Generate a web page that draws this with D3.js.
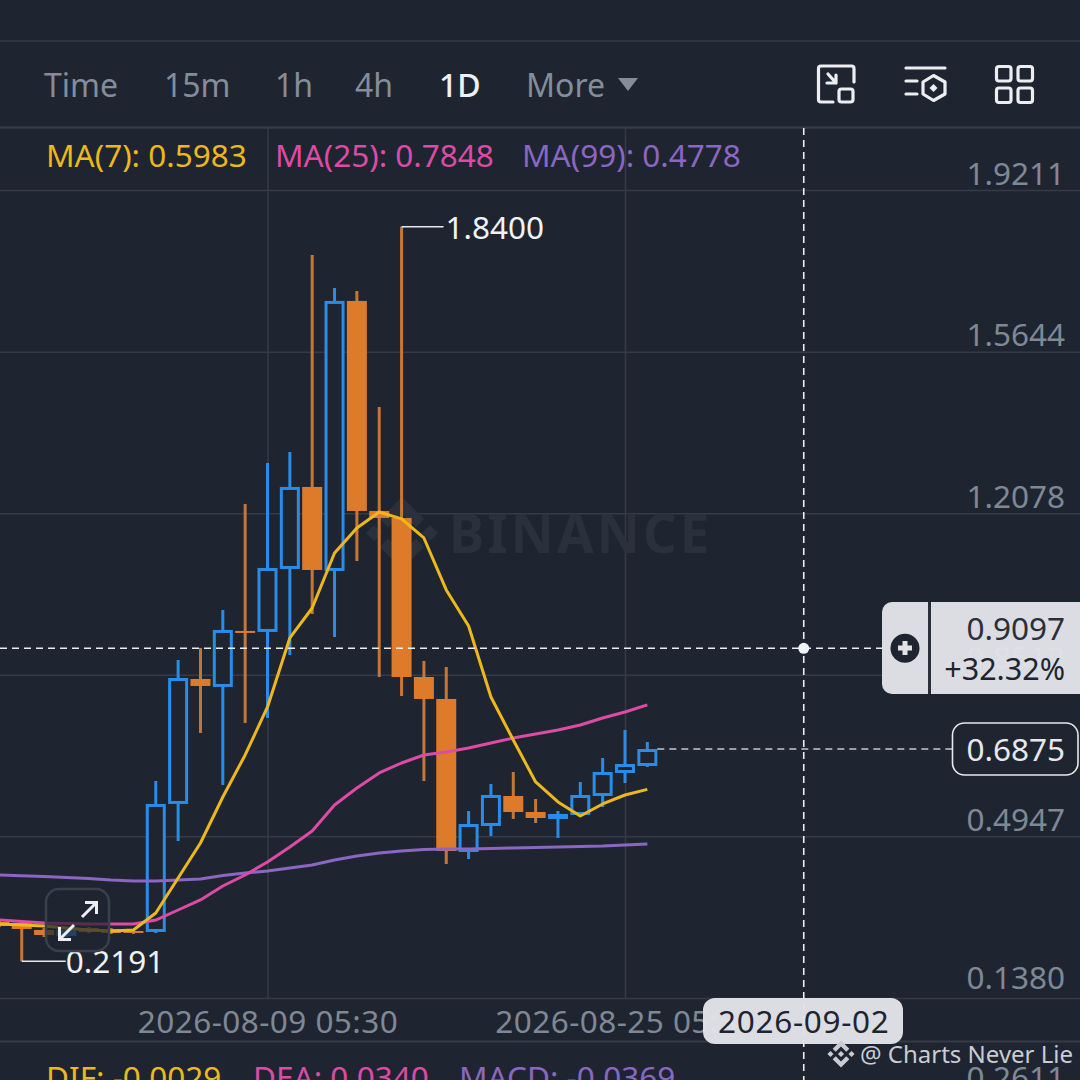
<!DOCTYPE html>
<html>
<head>
<meta charset="utf-8">
<script src="https://cdnjs.cloudflare.com/ajax/libs/d3/7.8.5/d3.min.js"></script>
<style>
  html, body { margin: 0; padding: 0; background: #1f2530; overflow: hidden; }
  svg { display: block; }
  text { font-family: "Noto Sans", sans-serif; }
  .domain { display: none; }
</style>
</head>
<body>
<svg id="canvas"></svg>
<script>
// one entry per daily candle
let dates = ['2026-07-28','2026-07-29','2026-07-30','2026-07-31','2026-08-01','2026-08-02','2026-08-03','2026-08-04',
             '2026-08-05','2026-08-06','2026-08-07','2026-08-08','2026-08-09','2026-08-10','2026-08-11','2026-08-12',
             '2026-08-13','2026-08-14','2026-08-15','2026-08-16','2026-08-17','2026-08-18','2026-08-19','2026-08-20',
             '2026-08-21','2026-08-22','2026-08-23','2026-08-24','2026-08-25','2026-08-26'];
let opens  = [.3057,.3035,.2881,.2749,.2925,.2903,.2859,.2837,.5662,.8420,.8244,.9480,.9458,1.0848,1.2658,1.0804,
              1.6763,1.2128,1.1974,.8464,.7979,.4602,.5176,.5838,.5485,.5331,.5419,.5838,.6346,.6500];
let highs  = [.3101,.3079,.2925,.2925,.2947,.2925,.2881,.6169,.8840,.9105,.9943,1.2283,1.3187,1.3430,1.7778,1.7050,
              1.6983,1.4423,1.8400,.8818,.8685,.5507,.6103,.6368,.5772,.5507,.6147,.6677,.7295,.7030];
let lows   = [.2947,.2191,.2726,.2726,.2815,.2793,.2793,.2815,.4845,.7229,.6081,.7449,.7560,.8950,.9855,.9347,
              1.1025,.8464,.8045,.6169,.4337,.4448,.4955,.5331,.5242,.4911,.5397,.5595,.6125,.6478];
let closes = [.2969,.2903,.2771,.2881,.2837,.2815,.2815,.5662,.8442,.8266,.9502,.9436,1.0870,1.2658,1.0826,1.6763,
              1.2128,1.1974,.8464,.7979,.4624,.5220,.5860,.5485,.5353,.5441,.5860,.6368,.6544,.6875];

let ma7  = [.3013,.2991,.2969,.2925,.2881,.2859,.2881,.3256,.4028,.4801,.5816,.6743,.7802,.9325,.9987,1.1201,
            1.1753,1.2106,1.1952,1.1532,1.0385,.9590,.8023,.7074,.6147,.5706,.5397,.5662,.5860,.5983];
let ma25 = [.3101,.3068,.3035,.3024,.3013,.3013,.3013,.3101,.3322,.3543,.3852,.4095,.4382,.4713,.5066,.5640,
            .6015,.6346,.6566,.6743,.6809,.6898,.7008,.7118,.7206,.7295,.7405,.7560,.7692,.7848];
let ma99 = [.4095,.4078,.4061,.4039,.4017,.3984,.3962,.3962,.3984,.4006,.4084,.4139,.4183,.4249,.4315,.4426,
            .4514,.4580,.4624,.4657,.4668,.4668,.4679,.4691,.4702,.4713,.4724,.4735,.4757,.4778];

let priceTicks = [1.9211, 1.5644, 1.2078, 0.8512, 0.4947, 0.1380];
let dateTicks = ['2026-08-09', '2026-08-25'];
let tabs = ['Time', '15m', '1h', '4h', '1D', 'More'];
let tabX = [44, 164, 275, 355, 439, 526];

let width = 1080;
let height = 1080;
let bg = '#1f2530';
let gridColor = '#343a46';
let tickColor = '#7f8895';
let up = '#2a8ce6';
let down = '#de7b2b';
let downWick = '#c4773a';
let yellow = '#ecb81e';
let pink = '#dc4ba6';
let purple = '#8b66c2';
let light = '#e1e3e8';
let labelSize = 31.5;

let parseDay = d3.utcParse('%Y-%m-%d');
let candles = dates.map((d, i) => ({
    date: parseDay(d), open: opens[i], high: highs[i], low: lows[i], close: closes[i]
}));

let canvas = d3.select('#canvas').attr('width', width).attr('height', height);

let xScale = d3.scaleUtc()
               .domain([parseDay(dateTicks[0]), parseDay(dateTicks[1])])
               .range([267.5, 625]);
let yScale = d3.scaleLinear()
               .domain([priceTicks[5], priceTicks[0]])
               .range([998, 190]);

let addText = (g, x, y, str, size, fill, anchor) =>
    g.append('text').attr('x', x).attr('y', y).attr('font-size', size)
     .attr('fill', fill).attr('text-anchor', anchor || 'start').text(str);

let drawLogo = (g, cx, cy, scale, fill) => {
    g.append('path')
     .attr('transform', `translate(${cx - 16 * scale},${cy - 16 * scale}) scale(${scale})`)
     .attr('fill', fill)
     .attr('d', 'M9.8 13.4L16 7.2l6.2 6.2 3.6-3.6L16 0 6.2 9.8zM0 16l3.6-3.6L7.2 16l-3.6 3.6zM9.8 18.6L16 24.8l6.2-6.2 3.6 3.6L16 32 6.2 22.2zM24.8 16l3.6-3.6L32 16l-3.6 3.6zM19.6 16L16 12.4 12.4 16l3.6 3.6z');
};

// frame lines
canvas.append('rect').attr('width', width).attr('height', height).attr('fill', bg);
[[41, 1.5], [127.5, 2.5], [1041.5, 2]].forEach(([y, w]) => {
    canvas.append('line').attr('x1', 0).attr('x2', width).attr('y1', y).attr('y2', y)
          .attr('stroke', gridColor).attr('stroke-width', w);
});

// header tabs
let header = canvas.append('g');
tabs.forEach((t, i) => {
    let active = t === '1D';
    addText(header, tabX[i], 97, t, 32, active ? '#eef0f3' : '#848d9a')
        .attr('font-weight', active ? 500 : 400);
});
header.append('path').attr('d', 'M618 78H638L628 91Z').attr('fill', '#848d9a');

// header icons
let icons = canvas.append('g').attr('fill', 'none').attr('stroke', '#eceef1')
                  .attr('stroke-width', 3.2).attr('stroke-linecap', 'round').attr('stroke-linejoin', 'round');
icons.append('path').attr('d', 'M833 102H821Q818.5 102 818.5 99.5V68.5Q818.5 66 821 66H851.5Q854 66 854 68.5V82');
icons.append('path').attr('d', 'M828 74L836 83M836 75V83H827');
icons.append('rect').attr('x', 839).attr('y', 89).attr('width', 14).attr('height', 13).attr('rx', 2.5);
icons.append('path').attr('d', 'M906 68H945M906 81H917M906 94H917');
icons.append('path').attr('d', 'M933.5 75.5L945 82V94L933.5 100.5L923 94V82Z');
icons.append('path').attr('d', 'M933.5 84L937.5 88L933.5 92L929.5 88Z').attr('fill', '#eceef1').attr('stroke', 'none');
[[996.5, 66.5], [1018, 66.5], [996.5, 88], [1018, 88]].forEach(([x, y]) => {
    icons.append('rect').attr('x', x).attr('y', y).attr('width', 14.5).attr('height', 14.5).attr('rx', 2.5);
});

// indicator legend
let legend = canvas.append('g');
addText(legend, 46, 167, 'MA(7): 0.5983', labelSize, yellow);
addText(legend, 275, 167, 'MA(25): 0.7848', labelSize, pink);
addText(legend, 522, 167, 'MA(99): 0.4778', labelSize, purple);

// grid and tick labels through the axes
let yAxis = d3.axisRight(yScale).tickValues(priceTicks).tickSize(width).tickFormat(d3.format('.4f'));
let yGroup = canvas.append('g').call(yAxis);
yGroup.selectAll('line').attr('stroke', gridColor).attr('stroke-width', 1.5);
yGroup.selectAll('text').attr('x', 1065).attr('dy', 0).attr('text-anchor', 'end')
      .attr('y', (d) => d === 0.138 ? -10 : -6)
      .attr('font-size', labelSize).attr('fill', tickColor);

let xAxis = d3.axisBottom(xScale).tickValues(dateTicks.map(parseDay)).tickSize(870)
              .tickFormat(d3.utcFormat('%Y-%m-%d 05:30'));
let xGroup = canvas.append('g').attr('transform', 'translate(0,128)').call(xAxis);
xGroup.selectAll('line').attr('stroke', gridColor).attr('stroke-width', 1.5);
xGroup.selectAll('text').attr('y', 905).attr('dy', 0)
      .attr('font-size', labelSize).attr('letter-spacing', 0.45).attr('fill', tickColor);

// watermark
let mark = canvas.append('g');
drawLogo(mark, 402, 533, 2.25, '#2a303c');
addText(mark, 449, 553, 'BINANCE', 53, '#2a303c').attr('font-weight', 700).attr('letter-spacing', 3);

// candles
let bodyWidth = 20;
let stroke = 3;
let candle = canvas.append('g').selectAll('g').data(candles).enter().append('g');

candle.append('line')
      .attr('x1', (d) => xScale(d.date))
      .attr('x2', (d) => xScale(d.date))
      .attr('y1', (d) => yScale(d.high))
      .attr('y2', (d) => yScale(d.low))
      .attr('stroke', (d) => d.close >= d.open ? up : downWick)
      .attr('stroke-width', 3);

candle.filter((d) => d.close < d.open).append('rect')
      .attr('x', (d) => xScale(d.date) - bodyWidth / 2)
      .attr('width', bodyWidth)
      .attr('y', (d) => yScale(d.open))
      .attr('height', (d) => yScale(d.close) - yScale(d.open))
      .attr('fill', down);

// hollow up candles, background inside so the wick stops at the body
candle.filter((d) => d.close >= d.open).append('rect')
      .attr('x', (d) => xScale(d.date) - bodyWidth / 2 + stroke / 2)
      .attr('width', bodyWidth - stroke)
      .attr('y', (d) => yScale(d.close) + stroke / 2)
      .attr('height', (d) => Math.max(yScale(d.open) - yScale(d.close) - stroke, 1))
      .attr('fill', bg)
      .attr('stroke', up)
      .attr('stroke-width', stroke);

// moving averages
let lineFor = (values) => d3.line()
    .x((d, i) => xScale(candles[i].date))
    .y((d) => yScale(d))(values);
[[ma99, purple], [ma25, pink], [ma7, yellow]].forEach(([values, color]) => {
    canvas.append('path').attr('d', lineFor(values)).attr('fill', 'none')
          .attr('stroke', color).attr('stroke-width', 3).attr('stroke-linejoin', 'round');
});

// high / low markers
let maxCandle = candles[d3.maxIndex(highs)];
let minCandle = candles[d3.minIndex(lows)];
let markers = canvas.append('g');
markers.append('line').attr('x1', xScale(maxCandle.date)).attr('x2', xScale(maxCandle.date) + 42)
       .attr('y1', yScale(maxCandle.high)).attr('y2', yScale(maxCandle.high))
       .attr('stroke', '#e6e8ec').attr('stroke-width', 1.6);
addText(markers, xScale(maxCandle.date) + 44, yScale(maxCandle.high) + 12, d3.format('.4f')(maxCandle.high), labelSize, '#f1f2f4');
markers.append('line').attr('x1', xScale(minCandle.date)).attr('x2', xScale(minCandle.date) + 44)
       .attr('y1', yScale(minCandle.low)).attr('y2', yScale(minCandle.low))
       .attr('stroke', '#e6e8ec').attr('stroke-width', 1.6);
addText(markers, xScale(minCandle.date) + 44, yScale(minCandle.low) + 12, d3.format('.4f')(minCandle.low), labelSize, '#f1f2f4');

// expand button sits over the candles
let btn = canvas.append('g');
btn.append('rect').attr('x', 46).attr('y', 889).attr('width', 63).attr('height', 62).attr('rx', 13)
   .attr('fill', 'rgba(31,37,48,0.72)').attr('stroke', '#3a404b').attr('stroke-width', 2.5);
btn.append('path').attr('d', 'M82 917L96 903M85 902.5H96.5V914M74 925L60 939M59.5 927V939.5H71')
   .attr('fill', 'none').attr('stroke', '#eceef1').attr('stroke-width', 3);

// latest close line and tag
let lastClose = closes[closes.length - 1];
let lastX = xScale(candles[candles.length - 1].date);
canvas.append('line').attr('x1', lastX + 10).attr('x2', 952).attr('y1', yScale(lastClose)).attr('y2', yScale(lastClose))
      .attr('stroke', '#c3c6cc').attr('stroke-width', 1.6).attr('stroke-dasharray', '7 5');
canvas.append('rect').attr('x', 952.5).attr('y', 723).attr('width', 125.5).attr('height', 52).attr('rx', 12)
      .attr('fill', bg).attr('stroke', '#e6e8ec').attr('stroke-width', 1.6);
addText(canvas, 1065, 761, d3.format('.4f')(lastClose), labelSize, '#e6e8ec', 'end');

// crosshair
let crossX = xScale(parseDay('2026-09-02'));
let crossY = yScale(0.9097);
let cross = canvas.append('g').attr('stroke', '#eceef1').attr('stroke-width', 1.6).attr('stroke-dasharray', '7 5');
cross.append('line').attr('x1', crossX).attr('x2', crossX).attr('y1', 128).attr('y2', height);
cross.append('line').attr('x1', 0).attr('x2', 882).attr('y1', crossY).attr('y2', crossY);
canvas.append('circle').attr('cx', crossX).attr('cy', crossY).attr('r', 5.5).attr('fill', '#f2f3f5');

// crosshair price tag
let tag = canvas.append('g');
tag.append('rect').attr('x', 882).attr('y', 602).attr('width', 210).attr('height', 92).attr('rx', 10)
   .attr('fill', light).attr('fill-opacity', 0.97);
tag.append('rect').attr('x', 928).attr('y', 602).attr('width', 3).attr('height', 92).attr('fill', '#2a303b');
tag.append('circle').attr('cx', 905).attr('cy', crossY).attr('r', 14.5).attr('fill', '#1f2530');
tag.append('path').attr('d', 'M898 648H912M905 641V655').attr('stroke', light).attr('stroke-width', 5);
addText(tag, 1065, 640, '0.9097', labelSize, '#2a303b', 'end');
addText(tag, 1065, 680, '+32.32%', 30.5, '#1f2530', 'end');

// crosshair date tag
let dateTag = canvas.append('g');
dateTag.append('rect').attr('x', 703).attr('y', 998).attr('width', 200).attr('height', 46).attr('rx', 12)
       .attr('fill', light).attr('fill-opacity', 0.97);
addText(dateTag, crossX, 1033, '2026-09-02', labelSize, '#1f2530', 'middle').attr('letter-spacing', 0.7);

// sub chart legend, cut off by the bottom edge
let macd = canvas.append('g');
addText(macd, 46, 1089, 'DIF: -0.0029', labelSize, yellow);
addText(macd, 253, 1089, 'DEA: 0.0340', labelSize, pink);
addText(macd, 459, 1089, 'MACD: -0.0369', labelSize, purple);
addText(macd, 1065, 1089, '0.2611', labelSize, tickColor, 'end');

// footer credit
let credit = canvas.append('g');
drawLogo(credit, 841, 1054, 0.85, '#c9ccd2');
addText(credit, 860, 1063, '@ Charts Never Lie', 24, '#c9ccd2');
</script>
</body>
</html>
